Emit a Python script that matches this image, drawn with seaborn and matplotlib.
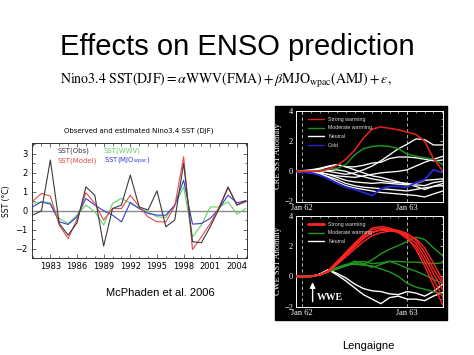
import numpy as np
import pandas as pd
import matplotlib
matplotlib.use("Agg")
import matplotlib.pyplot as plt
from matplotlib.patches import Rectangle
from matplotlib.lines import Line2D
from matplotlib.ticker import MultipleLocator, FixedLocator
import seaborn as sns

sns.set_theme(style="white")
plt.rcParams['font.family'] = ['DejaVu Sans']
plt.rcParams['mathtext.fontset'] = 'stix'
plt.rcParams['text.color'] = 'black'
plt.rcParams['axes.labelcolor'] = 'black'
plt.rcParams['xtick.color'] = 'black'
plt.rcParams['ytick.color'] = 'black'

# ---------------------------------------------------------
# Daten: Nino3.4 SST (DJF), beobachtet und geschaetzt
# ---------------------------------------------------------
years = [1981, 1982, 1983, 1984, 1985, 1986, 1987, 1988, 1989, 1990, 1991, 1992, 1993,
         1994, 1995, 1996, 1997, 1998, 1999, 2000, 2001, 2002, 2003, 2004, 2005]
sst_obs = [-0.23, 0.0, 2.67, -0.67, -1.28, -0.63, 1.26, 0.82, -1.86, 0.12, 0.3, 1.88, 0.2,
           0.04, 1.05, -0.84, -0.49, 2.5, -1.63, -1.68, -0.84, 0.12, 1.23, 0.3, 0.53]
sst_model = [0.5, 0.91, 0.77, -0.75, -1.46, -0.45, 0.95, 0.39, -0.49, 0.12, 0.12, 0.82, 0.21,
             -0.32, -0.58, -0.58, 0.25, 2.84, -2.04, -1.37, -0.67, 0.2, 1.26, 0.3, 0.47]
sst_wwv = [0.39, 0.47, 0.42, -0.4, -0.67, -0.23, 0.3, -0.05, -0.75, 0.39, 0.65, 0.39, 0.12,
           -0.05, -0.32, -0.35, 0.3, 1.26, -1.37, -0.75, 0.2, 0.2, 0.47, -0.18, 0.12]
sst_mjo = [0.21, 0.47, 0.35, -0.58, -0.72, -0.32, 0.65, 0.3, 0.0, -0.23, -0.58, 0.44, 0.12,
           -0.14, -0.23, -0.23, 0.3, 1.61, -0.7, -0.67, -0.4, 0.12, 0.82, 0.42, 0.53]
year_ticks = [1983, 1986, 1989, 1992, 1995, 1998, 2001, 2004]

# ---------------------------------------------------------
# Daten: CRE / CWE SST Anomalie (Monate ab Jan 62)
# ---------------------------------------------------------
months = [-0.7, 1, 2, 3, 4, 5, 6, 7, 8, 9, 10, 11, 12, 13, 14, 15, 16.1]
month_ticks = [0, 12]
month_labels = ['Jan 62', 'Jan 63']

cre_strong = [[0, 0.0, 0.0, 0.15, 0.4, 0.8, 1.4, 2.2, 2.8, 2.95, 2.85, 2.75, 2.6, 2.45, 2.0, 0.85, 0.0]]
cre_moderate = [[0, 0.0, 0.05, 0.15, 0.2, 0.45, 1.1, 1.5, 1.65, 1.7, 1.65, 1.5, 1.15, 1.0, 0.9, 0.8, 0.45]]
cre_neutral = [
    [0, 0.05, 0.1, 0.0, -0.1, -0.2, -0.1, 0.1, 0.35, 0.7, 1.1, 1.5, 1.8, 2.15, 2.1, 1.75, 1.75],
    [0, 0.1, 0.2, 0.35, 0.45, 0.3, 0.3, 0.4, 0.55, 0.6, 0.85, 0.95, 0.95, 0.9, 0.8, 0.7, 0.75],
    [0, 0.0, -0.1, -0.2, -0.3, -0.35, -0.4, -0.3, -0.2, -0.1, -0.05, 0.0, 0.1, 0.35, 0.6, 0.8, 1.0],
    [0, 0.0, -0.05, -0.2, -0.4, -0.6, -0.7, -0.75, -0.8, -0.75, -0.8, -0.85, -0.9, -0.8, -0.6, -0.55, -0.5],
    [0, -0.05, -0.15, -0.35, -0.55, -0.8, -0.95, -1.05, -1.1, -1.15, -1.2, -1.25, -1.3, -1.2, -1.1, -1.0, -0.95],
    [0, -0.1, -0.2, -0.4, -0.7, -0.95, -1.1, -1.2, -1.3, -1.4, -1.45, -1.5, -1.55, -1.6, -1.7, -1.5, -1.3],
    [0, 0.05, 0.15, 0.3, 0.45, 0.3, 0.1, -0.1, -0.3, -0.4, -0.55, -0.7, -0.85, -1.0, -1.2, -1.0, -0.8],
    [0, 0.0, 0.0, 0.05, 0.1, 0.0, -0.2, -0.35, -0.5, -0.6, -0.7, -0.75, -0.8, -0.9, -0.95, -0.75, -0.65],
]
cre_cold = [[0, -0.1, -0.25, -0.5, -0.8, -1.05, -1.2, -1.4, -1.6, -1.15, -1.0, -1.0, -1.05, -0.75, -0.55, 0.1, -0.1]]

cwe_strong = [
    [0, 0, 0.1, 0.35, 0.9, 1.5, 2.1, 2.7, 3.2, 3.3, 3.2, 3.0, 2.6, 1.8, 0.7, -0.6, -1.9],
    [0, 0, 0.1, 0.4, 1.0, 1.6, 2.2, 2.75, 3.1, 3.2, 3.1, 2.9, 2.5, 2.0, 1.0, -0.2, -1.4],
    [0, 0, 0.1, 0.35, 0.85, 1.4, 1.95, 2.5, 2.9, 3.1, 3.1, 3.05, 2.85, 2.4, 1.6, 0.5, -0.5],
    [0, 0, 0.1, 0.4, 0.95, 1.5, 2.0, 2.6, 2.95, 3.05, 3.05, 2.95, 2.7, 2.2, 1.3, 0.2, -0.9],
    [0, 0, 0.1, 0.3, 0.8, 1.3, 1.8, 2.3, 2.7, 2.9, 3.0, 2.95, 2.8, 2.5, 1.9, 0.9, -0.3],
]
cwe_moderate = [
    [0, 0, 0.1, 0.35, 0.55, 0.7, 0.85, 0.8, 1.1, 1.5, 1.8, 2.05, 2.3, 2.6, 2.45, 1.9, 1.35],
    [0, 0, 0.1, 0.35, 0.5, 0.7, 0.9, 1.0, 0.85, 0.9, 1.0, 1.0, 0.95, 0.95, 0.9, 0.85, 0.9],
    [0, 0, 0.1, 0.3, 0.5, 0.75, 1.0, 0.85, 0.6, 0.8, 1.0, 0.8, 0.55, 0.35, 0.1, -0.2, -0.45],
    [0, 0, 0.1, 0.35, 0.6, 0.8, 0.8, 0.75, 0.7, 0.5, 0.3, 0.0, -0.45, -0.7, -0.85, -1.0, -1.15],
]
cwe_neutral = [
    [0, 0, 0.15, 0.45, 0.2, -0.1, -0.5, -0.8, -0.95, -1.0, -1.15, -1.2, -1.0, -1.1, -1.3, -1.0, -0.5],
    [0, 0, 0.15, 0.45, 0.1, -0.3, -0.75, -1.2, -1.5, -1.8, -1.4, -1.3, -1.5, -1.5, -1.6, -1.3, -1.05],
]

W, H = 474, 355
fig = plt.figure(figsize=(W / 100, H / 100), dpi=100)


def fbox(left, top, right, bottom):
    # Pixel-Rechteck -> Figure-Koordinaten
    return [left / W, 1 - bottom / H, (right - left) / W, (bottom - top) / H]


# Titel + Formel
fig.text(237 / W, 1 - 55 / H, 'Effects on ENSO prediction', ha='center', va='baseline',
         fontsize=21, family='Liberation Sans')
fig.text(226 / W, 1 - 84 / H,
         r'$\mathrm{Nino3.4\ SST(DJF)} = \alpha\mathrm{WWV(FMA)} + \beta\mathrm{MJO_{wpac}(AMJ)} + \varepsilon,$',
         ha='center', va='baseline', fontsize=10)

# ---------------------------------------------------------
# Linkes Panel: McPhaden
# ---------------------------------------------------------
ax = fig.add_axes(fbox(31.7, 143.3, 246.7, 258.3))
df = pd.DataFrame({'Jahr': years, 'Obs': sst_obs, 'Model': sst_model, 'WWV': sst_wwv, 'MJO': sst_mjo})
farben = {'Obs': '#3a3a3a', 'Model': '#e8474a', 'WWV': '#63d363', 'MJO': '#3b3bd6'}
ax.axhline(0, color='#8a8a8a', lw=1.0, zorder=1)
for spalte in ['WWV', 'MJO', 'Model', 'Obs']:
    sns.lineplot(data=df, x='Jahr', y=spalte, ax=ax, color=farben[spalte], lw=0.8, zorder=3)
ax.set_xlim(1980.9, 2005.1)
ax.set_ylim(-2.5, 3.55)
ax.set_xticks(year_ticks)
ax.xaxis.set_minor_locator(MultipleLocator(1))
ax.set_yticks([-2, -1, 0, 1, 2, 3])
ax.yaxis.set_minor_locator(MultipleLocator(0.5))
ax.tick_params(which='both', direction='in', top=True, right=True, bottom=True, left=True,
               labelsize=6, color='#333333', pad=3)
ax.tick_params(which='major', length=3, width=0.5)
ax.tick_params(which='minor', length=1.8, width=0.5)
ax.set_xlabel('')
ax.set_ylabel('SST (°C)', fontsize=5.5, labelpad=3)
for s in ax.spines.values():
    s.set_color('#333333')
    s.set_linewidth(0.7)
ax.set_title('Observed and estimated Nino3.4 SST (DJF)', fontsize=5, pad=8)
ax.text(0.118, 0.935, 'SST(Obs)', transform=ax.transAxes, color=farben['Obs'], fontsize=5, va='center')
ax.text(0.118, 0.85, 'SST(Model)', transform=ax.transAxes, color=farben['Model'], fontsize=5, va='center')
ax.text(0.336, 0.935, 'SST(WWV)', transform=ax.transAxes, color=farben['WWV'], fontsize=5, va='center')
ax.text(0.336, 0.85, r'SST(MJO$_{\mathregular{wpac}}$)', transform=ax.transAxes, color=farben['MJO'],
        fontsize=5, va='center')
fig.text(160 / W, 1 - 293 / H, 'McPhaden et al. 2006', ha='center', va='center', fontsize=8,
         family='Liberation Sans')

# ---------------------------------------------------------
# Rechte Panels: CRE / CWE (schwarzer Hintergrund)
# ---------------------------------------------------------
fig.patches.append(Rectangle((275 / W, 1 - 320 / H), 172 / W, 214 / H, transform=fig.transFigure,
                             color='black', zorder=-5))


def panel(ax, gruppen, ylabel):
    ax.set_facecolor('black')
    for reihen, farbe, lw in gruppen:
        for werte in reihen:
            sns.lineplot(x=months, y=werte, ax=ax, color=farbe, lw=lw, zorder=3)
    for m in month_ticks:
        ax.axvline(m, color='#cccccc', ls=(0, (4, 3)), lw=0.6, zorder=2)
    ax.set_xlim(-0.7, 16.1)
    ax.set_ylim(-2, 4)
    ax.xaxis.set_major_locator(FixedLocator(month_ticks))
    ax.set_xticklabels(month_labels)
    ax.xaxis.set_minor_locator(MultipleLocator(1))
    ax.set_yticks([-2, 0, 2, 4])
    ax.yaxis.set_minor_locator(MultipleLocator(0.5))
    ax.tick_params(which='both', direction='in', top=True, right=True, color='white',
                   labelcolor='white', labelsize=6, pad=2)
    ax.tick_params(which='major', length=2.5, width=0.5)
    ax.tick_params(which='minor', length=1.2, width=0.4)
    for lab in ax.get_xticklabels() + ax.get_yticklabels():
        lab.set_family('Liberation Serif')
    for s in ax.spines.values():
        s.set_color('white')
        s.set_linewidth(0.7)
    ax.set_ylabel(ylabel, fontsize=6, color='white', family='Liberation Serif', labelpad=2)


ax_cre = fig.add_axes(fbox(296, 111, 443, 201.5))
panel(ax_cre, [(cre_neutral, 'white', 0.95), (cre_moderate, '#1f8f1f', 1.1),
               (cre_cold, '#2626d0', 1.4), (cre_strong, '#e01e1e', 1.2)], 'CRE SST Anomaly')
h = [Line2D([], [], color='#e01e1e', lw=1), Line2D([], [], color='#1f8f1f', lw=1),
     Line2D([], [], color='white', lw=1), Line2D([], [], color='#2626d0', lw=1)]
ax_cre.legend(h, ['Strong warming', 'Moderate warming', 'Neutral', 'Cold'], loc='upper left',
              bbox_to_anchor=(0.05, 0.99), frameon=False, labelcolor='#dddddd',
              handlelength=3, labelspacing=0.7, prop={'family': 'Liberation Sans', 'size': 3.8})

ax_cwe = fig.add_axes(fbox(296, 216, 443, 306.7))
panel(ax_cwe, [(cwe_neutral, 'white', 1.0), (cwe_moderate, '#1f9a1f', 1.0),
               (cwe_strong, '#ff2424', 1.0)], 'CWE SST Anomaly')
h = [Line2D([], [], color='#ff2424', lw=2), Line2D([], [], color='#1f9a1f', lw=1),
     Line2D([], [], color='white', lw=1)]
ax_cwe.legend(h, ['Strong warming', 'Moderate warming', 'Neutral'], loc='upper left',
              bbox_to_anchor=(0.05, 0.99), frameon=False, labelcolor='#dddddd',
              handlelength=3, labelspacing=0.7, prop={'family': 'Liberation Sans', 'size': 3.8})
ax_cwe.annotate('', xy=(1.2, -0.2), xytext=(1.2, -1.85),
                arrowprops=dict(arrowstyle='-|>', color='white', lw=1.0, mutation_scale=8))
ax_cwe.text(1.7, -1.37, 'WWE', color='white', fontsize=7, fontweight='bold',
            family='Liberation Serif', va='center')

fig.text(368 / W, 1 - 346 / H, 'Lengaigne', ha='center', va='center', fontsize=8,
         family='Liberation Sans')

fig.savefig('out.png', dpi=100)
